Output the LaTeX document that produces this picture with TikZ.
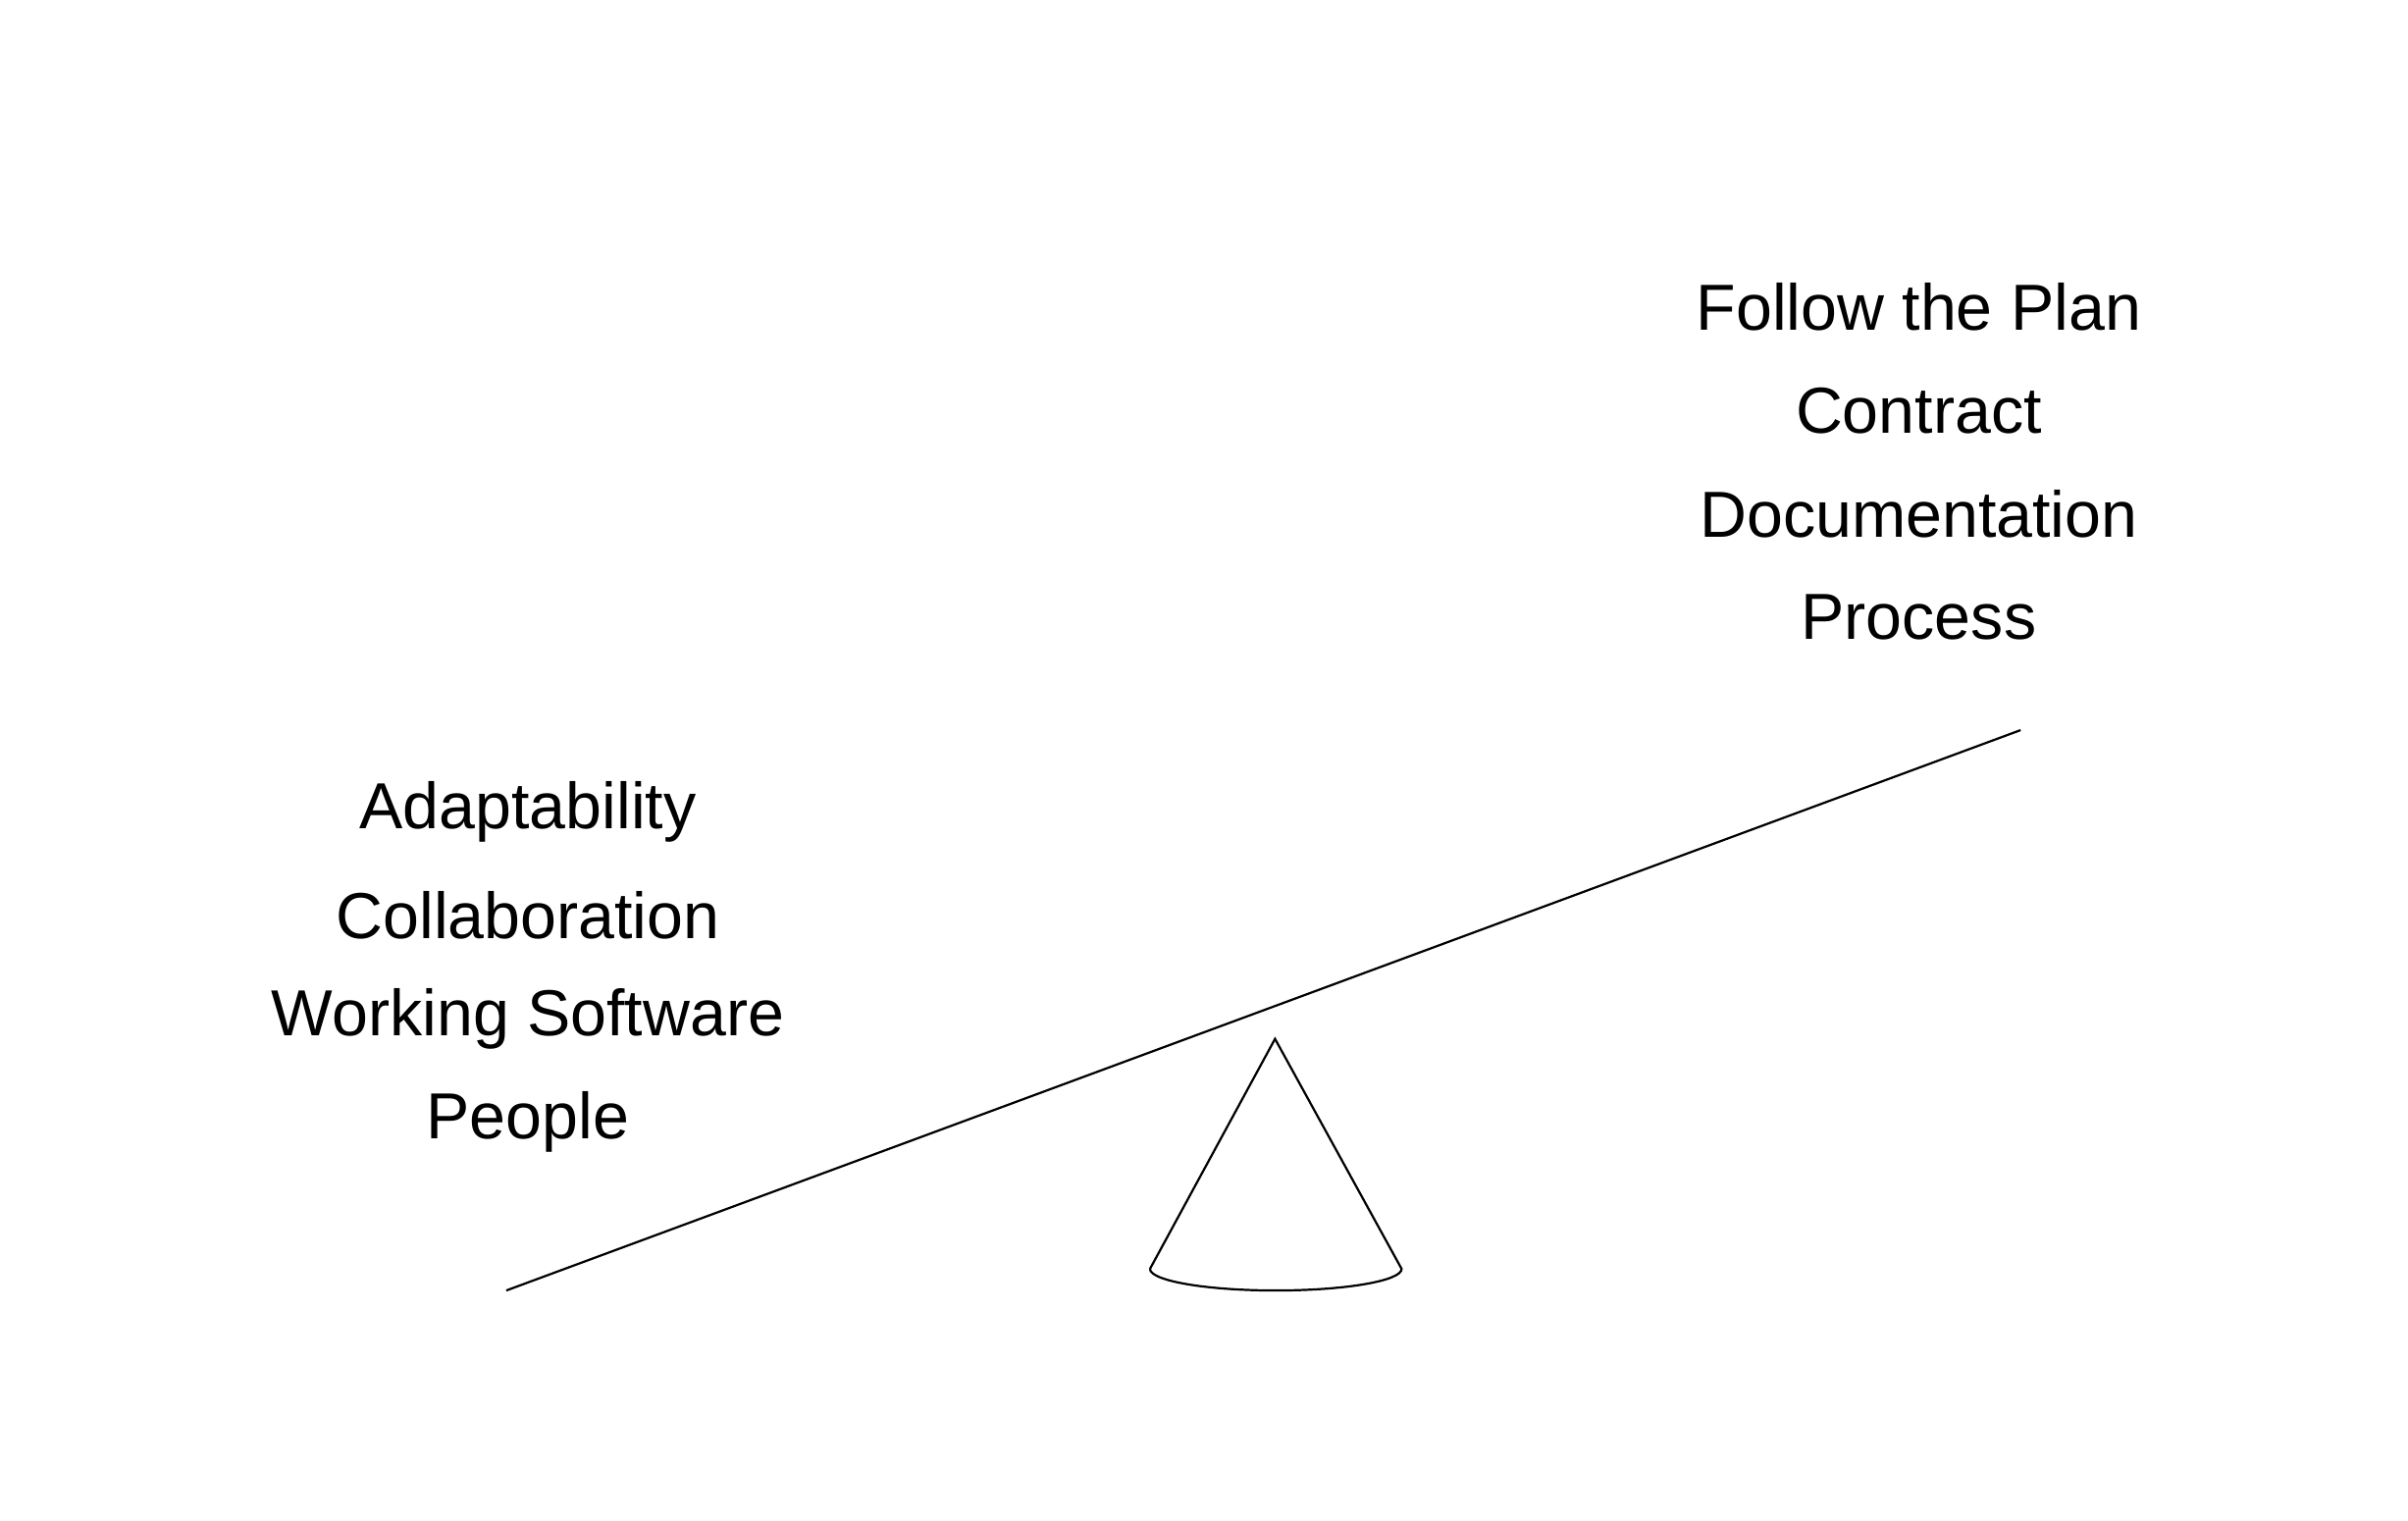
\documentclass[tikz,border=0pt]{standalone}
\usepackage{fontspec}
\setmainfont{Liberation Sans}
\usetikzlibrary{positioning}
\tikzset{item/.style={inner sep=0, minimum height=0.655cm, font=\fontsize{12}{14}\selectfont}}

\begin{document}
\begin{tikzpicture}[thin]
        \useasboundingbox (0,0) rectangle (15.6,9.85);

        % left pan
        \node[item] (adapt) at (3.42,4.59) {Adaptability};
        \node[item, below=0cm of adapt] (collab) {Collaboration};
        \node[item, below=0cm of collab] (working) {Working Software};
        \node[item, below=0cm of working] (people) {People};

        % right pan
        \node[item] (follow) at (12.43,7.86) {Follow the Plan};
        \node[item, below=0cm of follow] (contract) {Contract};
        \node[item, below=0cm of contract] (docs) {Documentation};
        \node[item, below=0cm of docs] (process) {Process};

        % beam and pivot
        \coordinate (beamL) at (3.28,1.49);
        \coordinate (beamR) at (13.09,5.12);
        \coordinate (apex) at (8.26,3.12);
        \coordinate (baseL) at (7.45,1.63);
        \coordinate (baseR) at (9.08,1.63);

        \draw (beamL) -- (beamR);
        \draw (baseL) -- (apex) -- (baseR)
            arc[start angle=0, end angle=-180, x radius=0.815, y radius=0.14];
\end{tikzpicture}
\end{document}
